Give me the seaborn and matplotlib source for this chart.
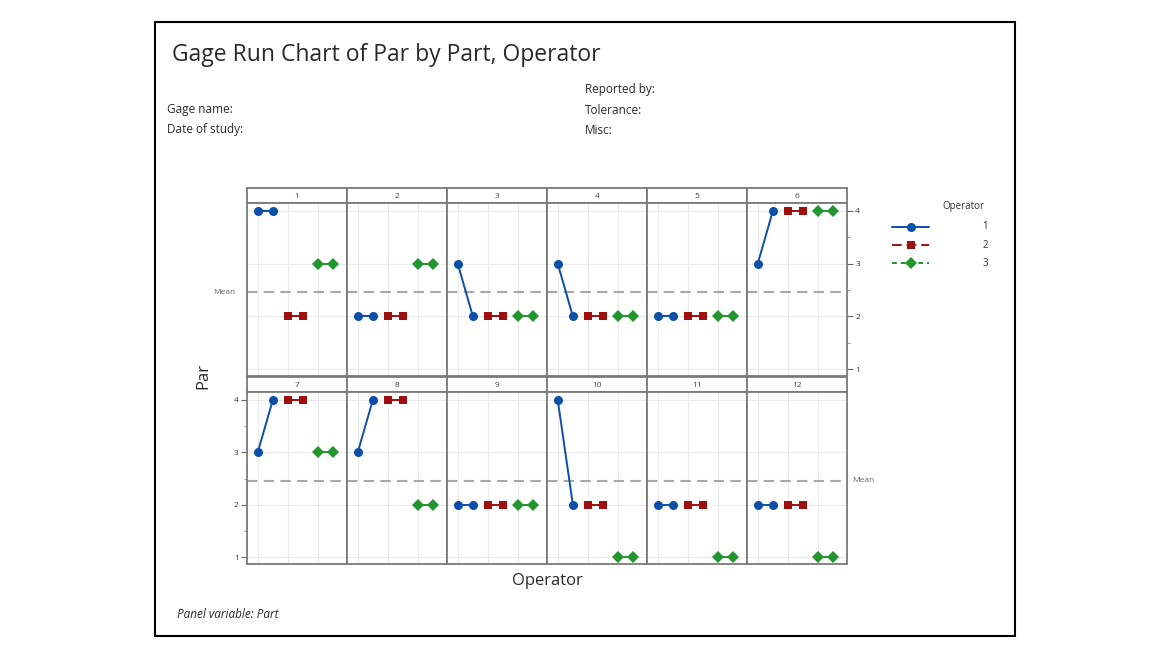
import pandas as pd
import matplotlib.pyplot as plt
import seaborn as sns
from matplotlib.lines import Line2D
from matplotlib.patches import Rectangle

# measurements: two trials per operator, for each part
parts = list(range(1, 13))
op1_trials = [(4, 4), (2, 2), (3, 2), (3, 2), (2, 2), (3, 4),
              (3, 4), (3, 4), (2, 2), (4, 2), (2, 2), (2, 2)]
op2_trials = [(2, 2), (2, 2), (2, 2), (2, 2), (2, 2), (4, 4),
              (4, 4), (4, 4), (2, 2), (2, 2), (2, 2), (2, 2)]
op3_trials = [(3, 3), (3, 3), (2, 2), (2, 2), (2, 2), (4, 4),
              (3, 3), (2, 2), (2, 2), (1, 1), (1, 1), (1, 1)]
operators = ["1", "2", "3"]
y_ticks = [1, 2, 3, 4]

rows = []
for i, part in enumerate(parts):
    for k, trials in enumerate([op1_trials, op2_trials, op3_trials]):
        for t, val in enumerate(trials[i]):
            rows.append({"Part": part, "Operator": operators[k],
                         "pos": 2 * k + t + 1, "Par": val})
df = pd.DataFrame(rows)
mean_par = df["Par"].mean()

sns.set_theme(style="white")
plt.rcParams["font.family"] = ["Open Sans", "DejaVu Sans"]

pal = {"1": "#0b4fa8", "2": "#9e1010", "3": "#23952e"}
marks = {"1": "o", "2": "s", "3": "D"}
mark_size = {"o": 6.5, "s": 5.6, "D": 6.2}
dash_styles = {"1": "-", "2": (0, (5, 2.5)), "3": (0, (2.5, 2))}
grid_col = "#ebebeb"
frame_col = "#7a7a7a"
text_col = "#2a2a2a"

W, H = 1170, 658
fig = plt.figure(figsize=(W / 100, H / 100), dpi=100)
fig.patch.set_facecolor("white")


def px_axes(x0, y0, x1, y1):
    return fig.add_axes([x0 / W, 1 - y1 / H, (x1 - x0) / W, (y1 - y0) / H])


# outer frame
fig.add_artist(Rectangle((155 / W, 1 - 636 / H), 860 / W, 614 / H,
                         transform=fig.transFigure, fill=False,
                         edgecolor="black", linewidth=1.5))

fig.text(172 / W, 1 - 55 / H, "Gage Run Chart of Par by Part, Operator",
         fontsize=16.5, color=text_col, va="center", ha="left")
for txt, y in [("Gage name:", 110), ("Date of study:", 130)]:
    fig.text(167 / W, 1 - y / H, txt, fontsize=8.5, color=text_col, va="center")
for txt, y in [("Reported by:", 90), ("Tolerance:", 110), ("Misc:", 130)]:
    fig.text(585 / W, 1 - y / H, txt, fontsize=8.5, color=text_col, va="center")

col_edges = [247, 347, 447, 547, 647, 747, 847]
row_boxes = [(188, 203, 376), (377, 392, 564)]

for i, part in enumerate(parts):
    r, c = divmod(i, 6)
    s_top, p_top, p_bot = row_boxes[r]
    x0, x1 = col_edges[c], col_edges[c + 1]

    strip = px_axes(x0, s_top, x1, p_top)
    strip.set_xticks([])
    strip.set_yticks([])
    strip.text(0.5, 0.45, str(part), ha="center", va="center",
               fontsize=6, color="#444444", transform=strip.transAxes)
    for sp in strip.spines.values():
        sp.set_color(frame_col)
        sp.set_linewidth(1.3)

    ax = px_axes(x0, p_top, x1, p_bot)
    sub = df[df["Part"] == part]
    ax.axhline(mean_par, color="#a8a8a8", linewidth=1.5, dashes=(5, 3), zorder=1)
    sns.lineplot(data=sub, x="pos", y="Par", hue="Operator", style="Operator",
                 hue_order=operators, style_order=operators, palette=pal,
                 markers=marks, dashes=False, markersize=6.5,
                 markeredgewidth=0, linewidth=1.4, legend=False, ax=ax,
                 zorder=3)
    for ln in ax.lines:
        m = ln.get_marker()
        if m in mark_size:
            ln.set_markersize(mark_size[m])
    ax.set_xlim(0.29, 6.9)
    ax.set_ylim(0.87, 4.15)
    ax.set_xticks([1, 3, 5])
    ax.set_yticks(y_ticks)
    ax.set_yticks([1.5, 2.5, 3.5], minor=True)
    ax.grid(True, which="major", color=grid_col, linewidth=0.8)
    ax.set_axisbelow(True)
    ax.set_xlabel("")
    ax.set_ylabel("")
    ax.tick_params(axis="x", length=0, labelbottom=False)
    for sp in ax.spines.values():
        sp.set_color(frame_col)
        sp.set_linewidth(1.3)

    if r == 0 and c == 5:
        ax.yaxis.tick_right()
        ax.tick_params(axis="y", which="major", length=4, width=0.8,
                       color="#666666", labelsize=6, labelcolor="#333333", pad=2)
        ax.tick_params(axis="y", which="minor", length=2, width=0.6,
                       color="#888888")
    elif r == 1 and c == 0:
        ax.tick_params(axis="y", which="major", left=True, length=4, width=0.8,
                       color="#666666", labelsize=6, labelcolor="#333333", pad=2)
        ax.tick_params(axis="y", which="minor", left=True, length=2, width=0.6,
                       color="#888888")
    else:
        ax.tick_params(axis="y", which="both", length=0,
                       labelleft=False, labelright=False)

    if r == 0 and c == 0:
        ax.text(-0.12, mean_par, "Mean", transform=ax.get_yaxis_transform(),
                ha="right", va="center", fontsize=6, color="#666666")
    if r == 1 and c == 5:
        ax.text(1.05, mean_par, "Mean", transform=ax.get_yaxis_transform(),
                ha="left", va="center", fontsize=6, color="#666666")

fig.text(203 / W, 1 - 376 / H, "Par", rotation=90, fontsize=12,
         color=text_col, ha="center", va="center")
fig.text(547 / W, 1 - 581 / H, "Operator", fontsize=12,
         color=text_col, ha="center", va="center")
fig.text(177 / W, 1 - 615 / H, "Panel variable: Part", fontsize=8.5,
         style="italic", color=text_col, ha="left", va="center")

# legend
fig.text(963 / W, 1 - 207 / H, "Operator", fontsize=7, color="#333333",
         ha="center", va="center")
for k, op in enumerate(operators):
    y = 1 - (227 + 18 * k) / H
    fig.add_artist(Line2D([892 / W, 929 / W], [y, y], transform=fig.transFigure,
                          color=pal[op], linewidth=1.4, linestyle=dash_styles[op]))
    fig.add_artist(Line2D([910.5 / W], [y], transform=fig.transFigure,
                          color=pal[op], marker=marks[op],
                          markersize=mark_size[marks[op]],
                          markeredgewidth=0, linestyle="none"))
    fig.text(988 / W, y, op, fontsize=7, color="#333333", ha="right", va="center")

fig.savefig("out.png", dpi=100, facecolor="white")
